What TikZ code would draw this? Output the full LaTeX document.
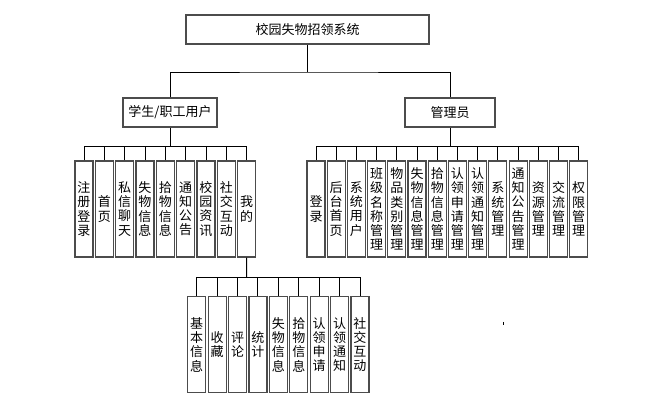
\documentclass[tikz,border=0pt]{standalone}
\usepackage{fontspec}
\newfontfamily\cjk{Noto Sans CJK SC}
\begin{document}
\begin{tikzpicture}[x=1pt,y=-1pt,
  box/.style={draw=black!70, line width=1.2pt, fill=white, inner sep=0pt, font=\cjk\fontsize{13}{14.2}\selectfont},
  hbox/.style={box, minimum height=29pt},
  vbox/.style={box, minimum width=18pt, minimum height=96pt, align=center},
  conn/.style={draw=black, line width=0.9pt}]
\useasboundingbox (0,0) rectangle (649,401);

% top levels
\node[hbox, minimum width=243pt] (root) at (307.5,29.5) {校园失物招领系统};
\node[hbox, minimum width=94pt] (user) at (170,112.5) {学生/职工用户};
\node[hbox, minimum width=90pt] (admin) at (450,112.5) {管理员};

\coordinate (rb) at (307.5,72);
\draw[conn] (root.south) -- (rb);
\draw[conn] (user.north) |- (rb) -| (admin.north);

% user children
\coordinate (lb) at (170,146);
\draw[conn] (user.south) -- (lb);
\foreach \t [count=\i] in {{注\\册\\登\\录},{首\\页},{私\\信\\聊\\天},{失\\物\\信\\息},{拾\\物\\信\\息},{通\\知\\公\\告},{校\\园\\资\\讯},{社\\交\\互\\动},{我\\的}}{
  \node[vbox] (L\i) at ({84+20.33*(\i-1)},209) {\t};
  \draw[conn] (L\i.north) |- (lb);
}

% admin children
\coordinate (ab) at (450,146);
\draw[conn] (admin.south) -- (ab);
\foreach \t [count=\i] in {{登\\录},{后\\台\\首\\页},{系\\统\\用\\户},{班\\级\\名\\称\\管\\理},{物\\品\\类\\别\\管\\理},{失\\物\\信\\息\\管\\理},{拾\\物\\信\\息\\管\\理},{认\\领\\申\\请\\管\\理},{认\\领\\通\\知\\管\\理},{系\\统\\管\\理},{通\\知\\公\\告\\管\\理},{资\\源\\管\\理},{交\\流\\管\\理},{权\\限\\管\\理}}{
  \node[vbox] (R\i) at ({316+20.21*(\i-1)},209) {\t};
  \draw[conn] (R\i.north) |- (ab);
}

% 我的 children
\coordinate (mb) at (246.7,277.3);
\draw[conn] (L9.south) -- (mb);
\foreach \t [count=\i] in {{基\\本\\信\\息},{收\\藏},{评\\论},{统\\计},{失\\物\\信\\息},{拾\\物\\信\\息},{认\\领\\申\\请},{认\\领\\通\\知},{社\\交\\互\\动}}{
  \node[vbox] (B\i) at ({196.7+20.41*(\i-1)},344.7) {\t};
  \draw[conn] (B\i.north) |- (mb);
}

% stray mark
\draw[line width=0.8pt] (503.5,322) -- (503.5,325.5);
\end{tikzpicture}
\end{document}
